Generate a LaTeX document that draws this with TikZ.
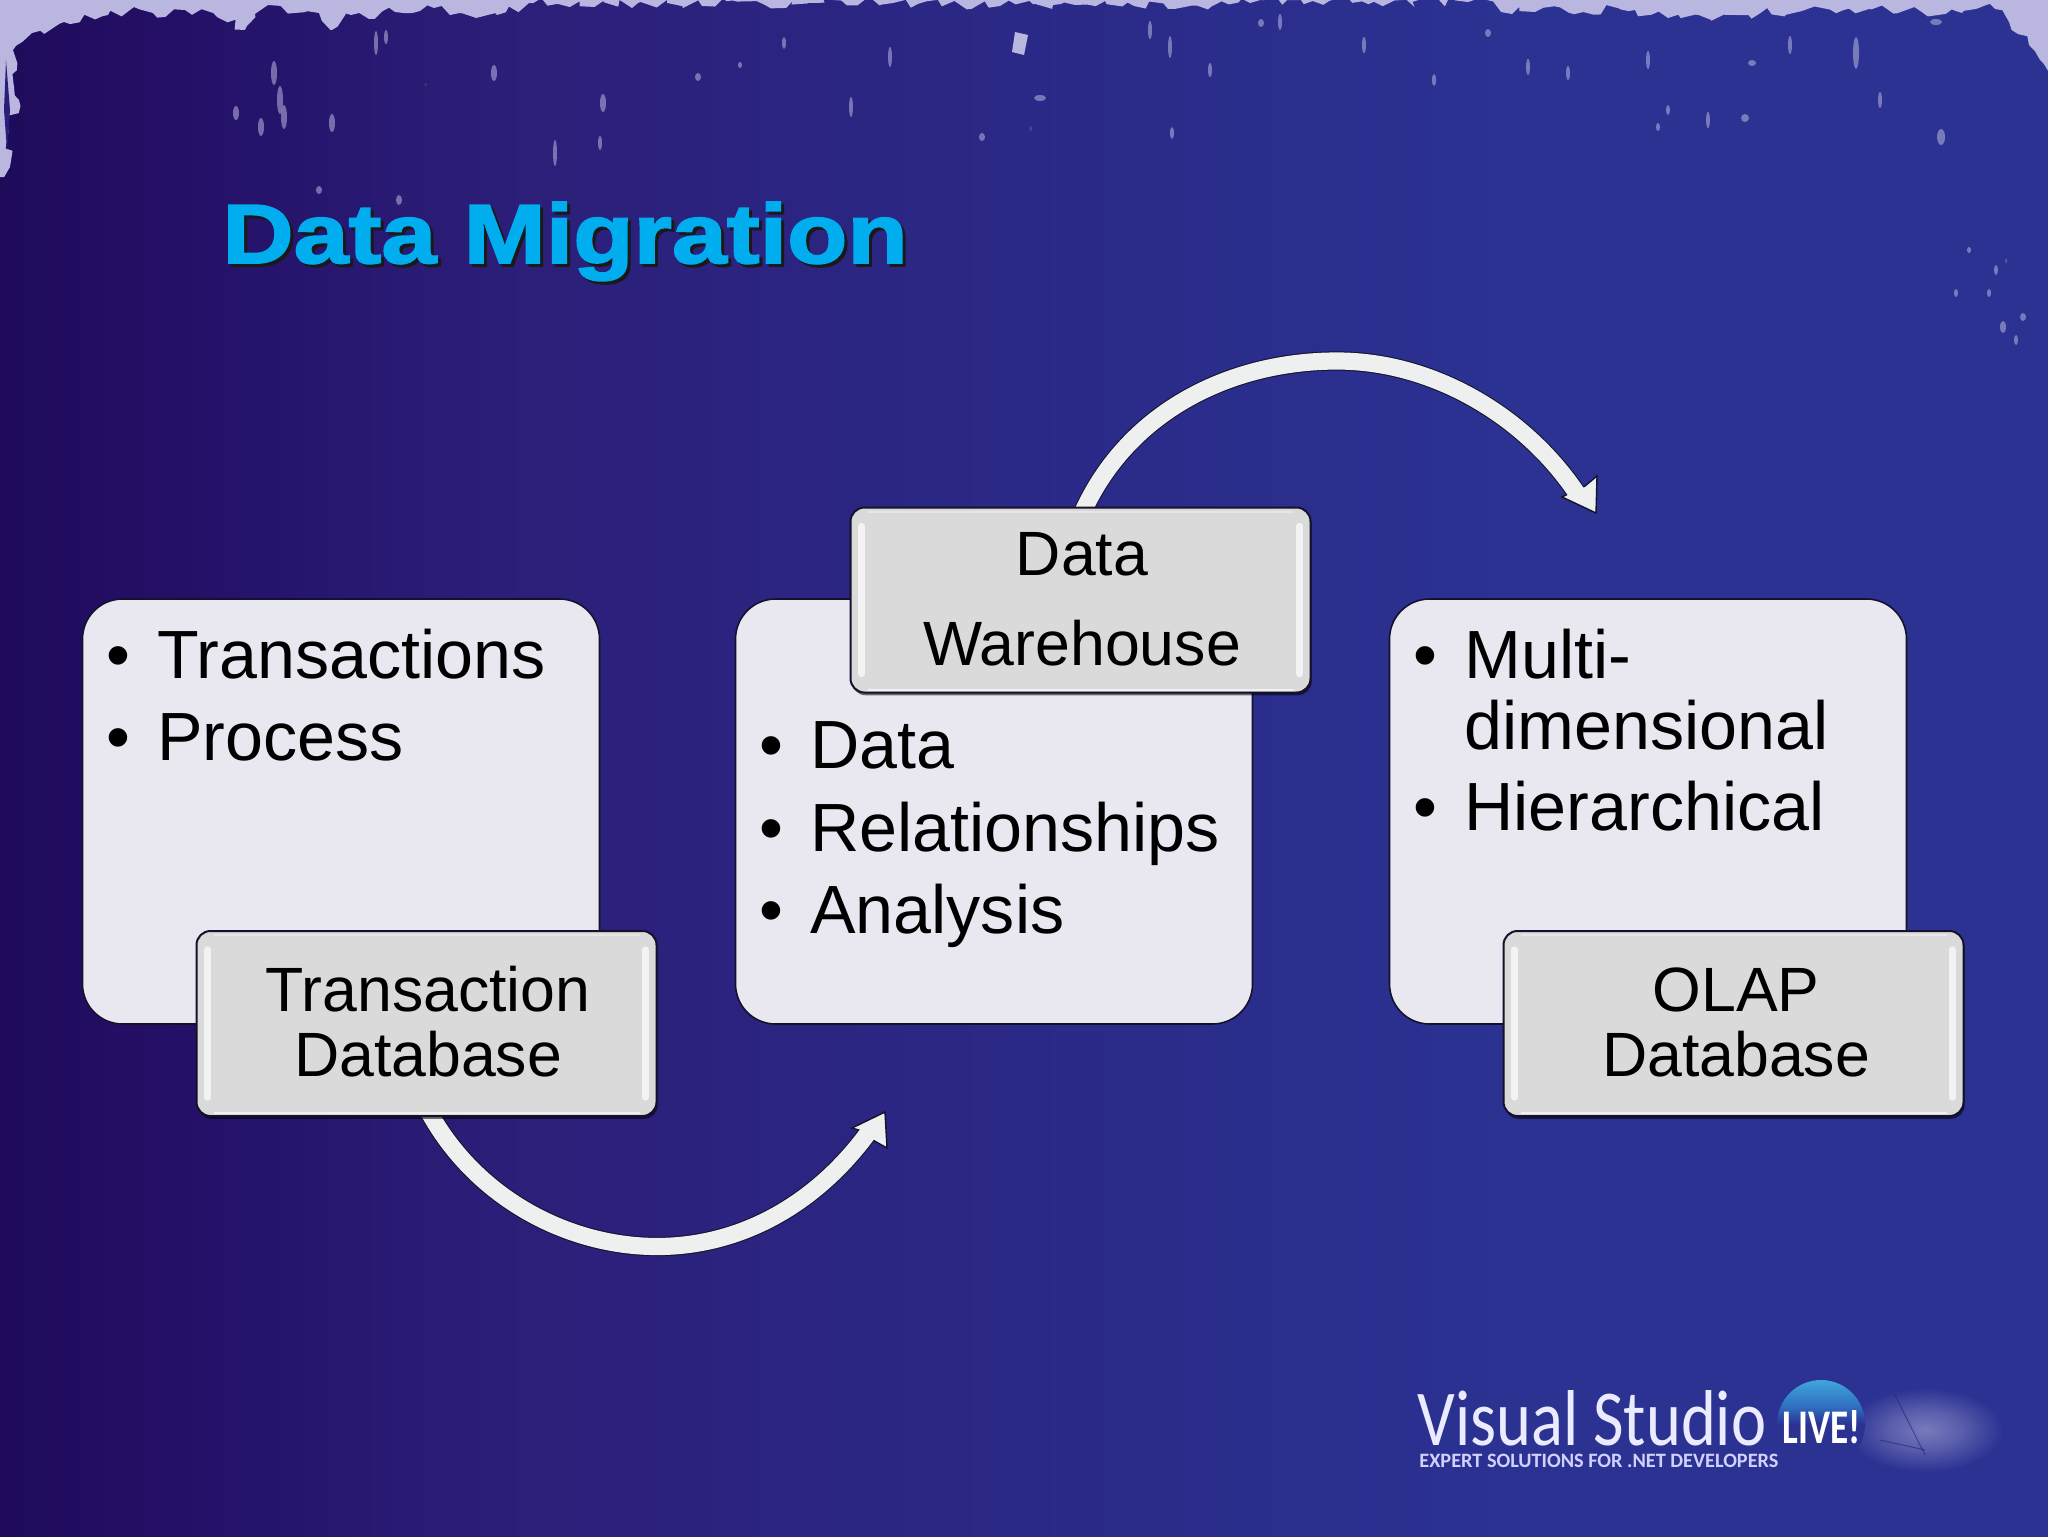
\documentclass[tikz,border=0pt]{standalone}
\usepackage{graphicx}
\usepackage{fontspec}
\setmainfont{Liberation Sans}
\newfontfamily\titlefont[FakeStretch=1.175,FakeBold=2.2]{Liberation Sans Bold}
\newfontfamily\logofont{Carlito}
\usetikzlibrary{calc,shadows,decorations.pathmorphing}
\definecolor{bgA}{HTML}{1F0B5A}
\definecolor{bgB}{HTML}{240F66}
\definecolor{bgC}{HTML}{2B1E78}
\definecolor{bgD}{HTML}{2B2987}
\definecolor{bgE}{HTML}{2B3292}
\definecolor{lilac}{HTML}{B9B6E0}
\definecolor{lightbox}{HTML}{E9E8F1}
\definecolor{graybox}{HTML}{DBDADB}
\definecolor{edgedark}{HTML}{14122A}
\definecolor{arrowfill}{HTML}{EEEFEF}
\definecolor{titleblue}{HTML}{00ADEF}
\definecolor{globetop}{HTML}{3FA6DC}
\definecolor{globemid}{HTML}{2F6FC0}
\pgfdeclarehorizontalshading{bgshade}{100bp}{color(0bp)=(bgA); color(25bp)=(bgA); color(29bp)=(bgB); color(37bp)=(bgC); color(50bp)=(bgD); color(62bp)=(bgE); color(75bp)=(bgE); color(100bp)=(bgE)}
\pgfdeclareverticalshading{globeshade}{100bp}{color(0bp)=(bgE); color(25bp)=(bgE); color(50bp)=(bgE); color(60bp)=(globemid); color(75bp)=(globetop); color(100bp)=(globetop)}
\pgfdeclareradialshading{wisp}{\pgfpoint{0bp}{0bp}}{color(0bp)=(lilac!55!bgE); color(12bp)=(lilac!32!bgE); color(25bp)=(bgE); color(50bp)=(bgE)}
\pgfdeclarelayer{backdrop}
\pgfdeclarelayer{arrowlayer}
\pgfsetlayers{backdrop,arrowlayer,main}
\tikzset{
  lightpanel/.style={draw=edgedark,line width=0.8pt,fill=lightbox,rounded corners=20pt,minimum width=258.5pt,minimum height=212.5pt,inner sep=0pt},
  graypanel/.style={draw=edgedark,line width=1pt,fill=graybox,rounded corners=7pt,minimum width=230pt,minimum height=92.5pt,inner sep=0pt,drop shadow={shadow xshift=0.6pt,shadow yshift=-1.4pt,opacity=.55,fill=black}},
  listtext/.style={anchor=base west,inner sep=0pt,font=\fontsize{34.1}{36}\selectfont,text=black},
  boxtext/.style={anchor=base,inner sep=0pt,font=\fontsize{31.3}{34}\selectfont,text=black},
  highlight/.style={draw=white,line width=3.6pt,line cap=round,opacity=.7},
  shinebar/.style={draw=white,line width=1pt,opacity=.6},
  arrowedge/.style={draw=edgedark,line width=9.6pt},
  arrowcore/.style={draw=arrowfill,line width=8.6pt},
  arrowhead/.style={fill=arrowfill,draw=edgedark,line width=0.7pt,line join=miter},
  speck/.style={fill=lilac,opacity=.55,draw=none},
}
\newcommand{\glossy}[1]{%
  \draw[highlight] ($(#1.north west)+(12,20)$) -- ($(#1.south west)+(12,-20)$);
  \draw[highlight] ($(#1.north east)+(-12,20)$) -- ($(#1.south east)+(-12,-20)$);
  \draw[shinebar] ($(#1.south west)+(18,-4)$) -- ($(#1.south east)+(-18,-4)$);
  \draw[shinebar,opacity=.35] ($(#1.north west)+(18,5)$) -- ($(#1.north east)+(-18,5)$);
}
\begin{document}
\begin{tikzpicture}[x=0.5pt,y=-0.5pt]
\useasboundingbox (0,0) rectangle (2048,1536);
\pgfmathsetseed{4711}
\begin{pgfonlayer}{backdrop}
  \shade[shading=bgshade] (0,0) rectangle (2048,1536);
  \begin{scope}
    \clip (0,0) rectangle (2048,1536);
    \fill[lilac,decorate,decoration={random steps,segment length=4pt,amplitude=2.8pt}]
      (-10,-10) -- (-10,182) -- (0,177) -- (10,167) -- (8,130) -- (19,100) -- (13,50) -- (32,33) -- (64,22) -- (108,15) -- (134,7) -- (153,13) -- (185,10) -- (217,17) -- (245,30) -- (268,5) -- (319,13) -- (332,30) -- (351,15) -- (395,12) -- (434,8) -- (497,15) -- (529,3) -- (638,3) -- (765,5) -- (893,3) -- (1000,6) -- (1053,5) -- (1134,6) -- (1250,3) -- (1468,2) -- (1535,12) -- (1635,10) -- (1668,18) -- (1735,15) -- (1802,11) -- (1869,9) -- (1962,13) -- (1990,4) -- (2009,22) -- (2029,45) -- (2040,60) -- (2060,80) -- (2060,-10) -- cycle;
    \fill[bgC] (6,60) -- (10,110) -- (7,150) -- (4,110) -- cycle;
    % fringe of the torn edge
    \foreach \i in {1..300}{
      \pgfmathsetmacro{\px}{40+rnd*1960}
      \pgfmathsetmacro{\ptop}{4+rnd*6}
      \pgfmathsetmacro{\plen}{8+rnd*20}
      \fill[lilac,opacity=.8] (\px-2.5,\ptop) -- (\px+2.5,\ptop) -- (\px,\ptop+\plen) -- cycle;
    }
    % specks
    \foreach \sx/\sy/\sw/\sh in {274/73/3/12,280/100/3/14,284/117/3/12,261/127/3/9,332/123/3/9,376/43/2/12,386/37/2/7,494/73/3/8,603/103/3/9,555/153/2/13,600/143/2/7,784/43/2/6,740/65/2/3,698/77/3/4,890/57/2/10,851/107/2/10,982/137/3/4,399/200/3/5,319/190/3/4,236/113/3/7,1170/47/2/11,1261/23/3/4,1488/33/3/4,1364/45/2/8,1752/63/4/3,1856/53/3/16,1936/22/6/3,1941/137/4/8,1745/118/4/4,1658/127/2/4,1668/110/2/5,1708/120/2/8,1040/98/6/3,1434/80/2/6,1528/67/2/8,1568/73/2/7,1648/60/2/9,2003/327/3/6,1956/293/2/4,2023/317/3/4,1989/293/2/4,1969/250/2/3,1996/270/2/5,2016/340/2/5,1172/133/2/6,1280/22/2/8,1150/30/2/9,1210/70/2/7,1790/45/2/9,1880/100/2/8}
      {\fill[speck] (\sx,\sy) ellipse [x radius=\sw,y radius=\sh];}
    \fill[lilac] (1015,32) -- (1028,35) -- (1024,55) -- (1012,52) -- cycle;
    \foreach \i in {1..320}{
      \pgfmathsetmacro{\px}{200+rnd*1720}
      \pgfmathsetmacro{\py}{25+rnd*125}
      \pgfmathsetmacro{\ph}{1+rnd*4}
      \fill[lilac,opacity=.22] (\px,\py) ellipse [x radius=1.2,y radius=\ph];
    }
    \foreach \i in {1..70}{
      \pgfmathsetmacro{\px}{1930+rnd*110}
      \pgfmathsetmacro{\py}{230+rnd*140}
      \pgfmathsetmacro{\ph}{1+rnd*3}
      \fill[lilac,opacity=.25] (\px,\py) ellipse [x radius=1.2,y radius=\ph];
    }
    \foreach \i in {1..70}{
      \pgfmathsetmacro{\px}{170+rnd*290}
      \pgfmathsetmacro{\py}{60+rnd*230}
      \pgfmathsetmacro{\ph}{1+rnd*3}
      \fill[lilac,opacity=.2] (\px,\py) ellipse [x radius=1.2,y radius=\ph];
    }
  \end{scope}
\end{pgfonlayer}

% title
\node[anchor=base west,inner sep=0pt,text=black!90,font=\titlefont\fontsize{42}{46}\selectfont] (titleshadow) at (225,266) {Data Migration};
\node[anchor=base west,inner sep=0pt,text=titleblue,font=\titlefont\fontsize{42}{46}\selectfont] (title) at (222,263) {Data Migration};

% panels
\node[lightpanel] (p1) at (341,811.5) {};
\node[lightpanel] (p2) at (994,811.5) {};
\node[lightpanel] (p3) at (1648,811.5) {};
\node[graypanel] (g1) at (426.5,1023.5) {};
\node[graypanel] (g2) at (1080.5,600) {};
\node[graypanel] (g3) at (1733.5,1023.5) {};
\glossy{g1}\glossy{g2}\glossy{g3}

% panel 1 text
\node[listtext] (b11) at (106,678) {•};
\node[listtext] (t11) at (157,678) {Transactions};
\node[listtext] (b12) at (106,760) {•};
\node[listtext] (t12) at (157,760) {Process};
% panel 2 text
\node[listtext] (b21) at (759,768) {•};
\node[listtext] (t21) at (810,768) {Data};
\node[listtext] (b22) at (759,851) {•};
\node[listtext] (t22) at (810,851) {Relationships};
\node[listtext] (b23) at (759,933) {•};
\node[listtext] (t23) at (810,933) {Analysis};
% panel 3 text
\node[listtext] (b31) at (1413,678) {•};
\node[listtext] (t31) at (1464,678) {Multi-};
\node[listtext] (t32) at (1464,749) {dimensional};
\node[listtext] (b33) at (1413,830) {•};
\node[listtext] (t33) at (1464,830) {Hierarchical};
% gray labels
\node[boxtext] (l11) at (428,1011) {Transaction};
\node[boxtext] (l12) at (428,1076) {Database};
\node[boxtext] (l21) at (1082,575) {Data};
\node[boxtext] (l22) at (1082,665) {Warehouse};
\node[boxtext] (l31) at (1736,1011) {OLAP};
\node[boxtext] (l32) at (1736,1076) {Database};

% arrows
\coordinate (a1mid) at (657,1246.5);
\coordinate (a1end) at (868,1133);
\coordinate (a2mid) at (1337,361);
\coordinate (a2end) at (1578,495);
\begin{pgfonlayer}{arrowlayer}
  \draw[arrowedge] ($(g1.south)+(3,-4)$) .. controls (478,1200) and (570,1246.5) .. (a1mid) .. controls (740,1246.5) and (815,1205) .. (a1end);
  \fill[arrowhead] (885,1112) -- (887,1148) -- (871,1139) -- (862,1131) -- (852,1128) -- cycle;
  \draw[arrowcore] ($(g1.south)+(3,-4)$) .. controls (478,1200) and (570,1246.5) .. (a1mid) .. controls (740,1246.5) and (815,1205) .. (a1end);
  \draw[arrowedge] ($(g2.north)+(3,4)$) .. controls (1130,410) and (1232,361) .. (a2mid) .. controls (1432,361) and (1525,415) .. (a2end);
  \fill[arrowhead] (1596,513) -- (1562,497) -- (1572,492) -- (1585,486) -- (1597,476) -- cycle;
  \draw[arrowcore] ($(g2.north)+(3,4)$) .. controls (1130,410) and (1232,361) .. (a2mid) .. controls (1432,361) and (1525,415) .. (a2end);
\end{pgfonlayer}

% logo
\begin{pgfonlayer}{arrowlayer}
  \shade[shading=wisp] (1925,1430) ellipse [x radius=78,y radius=42];
  \shade[shading=globeshade] (1821,1424) circle [radius=44];
  \draw[bgC,line width=0.5pt,opacity=.6] (1895,1395) -- (1925,1455);
  \draw[bgC,line width=0.5pt,opacity=.6] (1880,1440) -- (1925,1450);
\end{pgfonlayer}
\node[anchor=base west,inner sep=0pt,text=blue!8!white,font=\logofont] (logo1) at (1417,1445) {\resizebox{174.5pt}{27.5pt}{Visual Studio}};
\node[anchor=base west,inner sep=0pt,text=white,font=\logofont\bfseries] (logo2) at (1782,1443) {\resizebox{39pt}{16.5pt}{LIVE!}};
\node[anchor=base west,inner sep=0pt,text=blue!18!white,font=\logofont\bfseries] (logo3) at (1419,1467) {\resizebox{179.5pt}{6.7pt}{EXPERT SOLUTIONS FOR .NET DEVELOPERS}};
\end{tikzpicture}
\end{document}
